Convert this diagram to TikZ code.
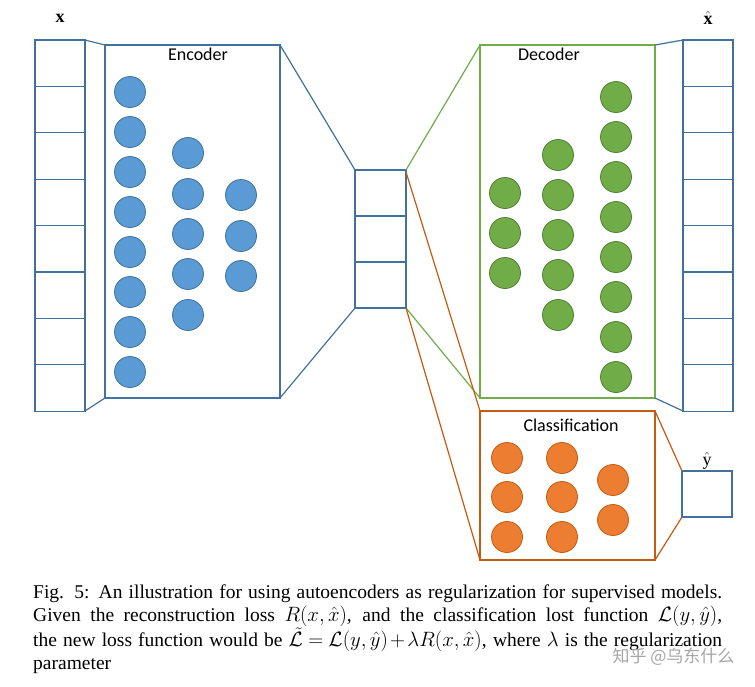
\documentclass[tikz,border=0pt]{standalone}
\usepackage{amsmath,amssymb}
\usepackage{fontspec}
\setmainfont{Liberation Serif}
\newfontfamily\lab{Carlito}
\newfontfamily\cjk{Noto Sans CJK SC}
\usetikzlibrary{calc}
\definecolor{bline}{HTML}{41719C}
\definecolor{bfill}{HTML}{5B9BD5}
\definecolor{gline}{HTML}{70AD47}
\definecolor{gfill}{HTML}{70AD47}
\definecolor{gdark}{HTML}{507E32}
\definecolor{oline}{HTML}{C55A11}
\definecolor{ofill}{HTML}{ED7D31}
\tikzset{
  neuron/.style={circle,minimum size=31pt,inner sep=0pt,line width=0.8pt},
  bn/.style={neuron,fill=bfill,draw=bline},
  gn/.style={neuron,fill=gfill,draw=gdark},
  on/.style={neuron,fill=ofill,draw=oline},
  box/.style={line width=1.2pt},
  lab/.style={font=\lab\fontsize{18}{20}\selectfont}
}
\begin{document}
\begin{tikzpicture}[x=1pt,y=-1pt]
\useasboundingbox[fill=white] (0,0) rectangle (755,686);
% input column
\foreach \i in {0,...,7}
  \draw[box,bline] (35,{40+\i*46.4}) rectangle (85,{40+(\i+1)*46.4});
\node[font=\bfseries\fontsize{18}{20}\selectfont] (xin) at (60,18) {x};
% output column
\foreach \i in {0,...,7}
  \draw[box,bline] (683,{40+\i*46.4}) rectangle (733,{40+(\i+1)*46.4});
\node[font=\bfseries\fontsize{18}{20}\selectfont] (xout) at (708,18) {$\hat{\mathbf{x}}$};
% encoder
\draw[box,bline] (105,45) rectangle (280,398);
\node[lab] (enc) at (198,54) {Encoder};
\draw[box,bline] (85,40) -- (105,45) (85,411) -- (105,398);
\foreach \y [count=\k] in {92,132,172,212,252,292,332,372} \node[bn] (e1\k) at (130,\y) {};
\foreach \y [count=\k] in {153,194,234,274,315} \node[bn] (e2\k) at (188,\y) {};
\foreach \y [count=\k] in {195,236,276} \node[bn] (e3\k) at (241,\y) {};
% code
\draw[box,bline] (355,170) rectangle (406,216);
\draw[box,bline] (355,216) rectangle (406,262);
\draw[box,bline] (355,262) rectangle (406,308);
\draw[box,bline] (280,45) -- (355,170) (280,398) -- (355,308);
% decoder
\draw[box,gline] (480,45) rectangle (655,398);
\node[lab] (dec) at (549,54) {Decoder};
\draw[box,gline] (406,170) -- (480,45) (406,308) -- (480,398);
\draw[box,bline] (655,45) -- (683,40) (655,398) -- (683,411);
\foreach \y [count=\k] in {193,233,273} \node[gn] (d1\k) at (505,\y) {};
\foreach \y [count=\k] in {155,195,235,275,315} \node[gn] (d2\k) at (558,\y) {};
\foreach \y [count=\k] in {97,137,177,217,257,297,337,377} \node[gn] (d3\k) at (616,\y) {};
% classification
\draw[box,oline] (480,411) rectangle (655,560);
\node[lab] (cls) at (571,425) {Classification};
\draw[box,oline] (406,172) -- (480,411) (406,308) -- (480,560);
\foreach \y [count=\k] in {458,497,537} {\node[on] (c1\k) at (507,\y) {}; \node[on] (c2\k) at (562,\y) {};}
\foreach \y [count=\k] in {480,520} \node[on] (c3\k) at (613,\y) {};
\draw[box,bline] (682,471) rectangle (732,517);
\draw[box,oline] (655,411) -- (682,471) (655,560) -- (682,517);
\node[font=\fontsize{18}{20}\selectfont] (yout) at (707,461) {$\hat{\mathrm{y}}$};
% caption
\node[anchor=north west,inner sep=0pt,text width=689pt,align=justify,
  font=\fontsize{19.5}{23}\selectfont] (cap) at (33,585)
{Fig. 5: An illustration for using autoencoders as regularization for supervised models.\linebreak
Given the reconstruction loss $R(x,\hat{x})$, and the classification lost function $\mathcal{L}(y,\hat{y})$,\linebreak
the new loss function would be $\tilde{\mathcal{L}}\!=\!\mathcal{L}(y,\hat{y})\!+\!\lambda R(x,\hat{x})$, where $\lambda$ is the regularization\linebreak
parameter\hfill\null};
\node[font=\cjk\fontsize{17}{20}\selectfont,text=black!35,anchor=east] (wm) at (738,657) {知乎 @乌东什么};
\end{tikzpicture}
\end{document}
